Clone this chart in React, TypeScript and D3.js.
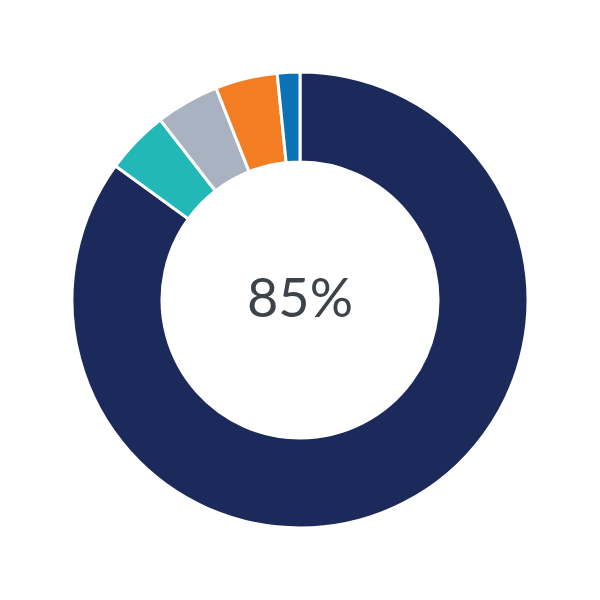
import React from "react";
import * as d3 from "d3";

const categories = ["Main", "Teal", "Gray", "Orange", "Blue"];
const values = [85, 4.5, 4.5, 4.4, 1.6];
const colors = ["#1c2a5b", "#22b8b8", "#a8b2c0", "#f27d22", "#0b73b5"];
const centerLabel = "85%";

export default function App() {
  const width = 600;
  const height = 600;
  const cx = 300;
  const cy = 300;
  const outer = 228;
  const inner = 138;
  const pie = d3.pie<number>().sort(null).value((d) => d);
  const arcs = pie(values);
  const arc = d3.arc<d3.PieArcDatum<number>>().innerRadius(inner).outerRadius(outer);
  return (
    <svg width={width} height={height} style={{ position: "absolute", left: 0, top: 0 }}>
      <rect width={width} height={height} fill="#fff" />
      <g transform={`translate(${cx},${cy})`}>
        {arcs.map((a, i) => (
          <path key={categories[i]} d={arc(a) || ""} fill={colors[i]} stroke="#fff" strokeWidth={3} strokeLinejoin="miter" />
        ))}
        <text x={0} y={-2} dy="0.35em" textAnchor="middle" fontFamily="Lato, sans-serif" fontSize={54} fill="#3d4348">
          {centerLabel}
        </text>
      </g>
    </svg>
  );
}
